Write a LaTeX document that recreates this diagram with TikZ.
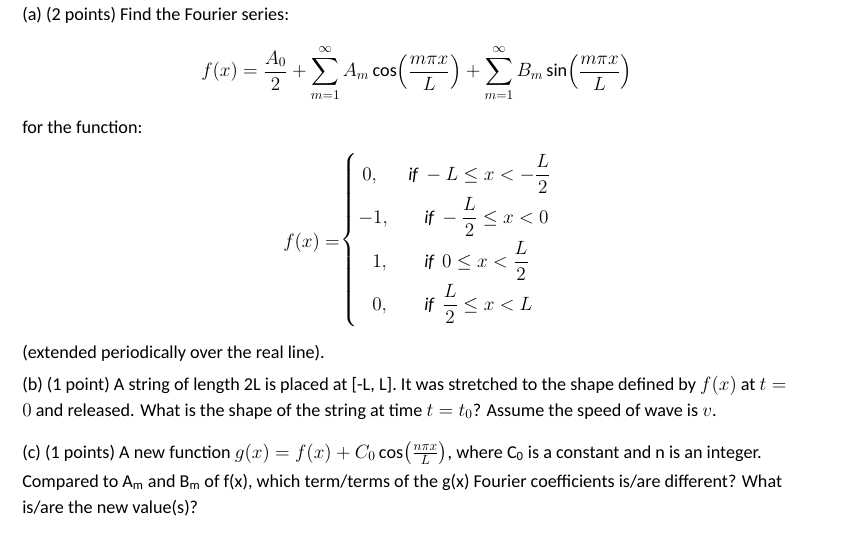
\documentclass[tikz,border=0pt]{standalone}
\usepackage{amsmath}
\usepackage{fontspec}
\setmainfont{Carlito}
\begin{document}
\begin{tikzpicture}[x=0.75pt,y=-0.75pt,
  txt/.style={anchor=base west,inner sep=0pt,font=\fontsize{13.6}{15}\selectfont},
  mth/.style={anchor=base west,inner sep=0pt,font=\fontsize{13.6}{15}\selectfont}]
\useasboundingbox[fill=white] (0,0) rectangle (867,535);
\node[txt] (a) at (22,21) {(a) (2 points) Find the Fourier series:};
\node[mth] (eq) at (201,77) {$f(x)=\dfrac{A_0}{2}+\displaystyle\sum_{m=1}^{\infty}A_m\cos\Bigl(\frac{m\pi x}{L}\Bigr)+\sum_{m=1}^{\infty}B_m\sin\Bigl(\frac{m\pi x}{L}\Bigr)$};
\node[txt] (ff) at (22,133) {for the function:};
\node[mth] (fx) at (283,247) {$f(x)=$};
\node[mth,anchor=west] (br) at (340,240) {$\left\{\vrule height 60pt depth 60pt width 0pt\right.$};
\node[mth] (r1a) at (362,180) {$0,$};
\node[mth] (r1b) at (408,180) {$\mathit{if}\ -L\le x<-\dfrac{L}{2}$};
\node[mth] (r2a) at (358,223) {$-1,$};
\node[mth] (r2b) at (424,223) {$\mathit{if}\ -\dfrac{L}{2}\le x<0$};
\node[mth] (r3a) at (372,267) {$1,$};
\node[mth] (r3b) at (424,267) {$\mathit{if}\ \ 0\le x<\dfrac{L}{2}$};
\node[mth] (r4a) at (372,310) {$0,$};
\node[mth] (r4b) at (424,310) {$\mathit{if}\ \ \dfrac{L}{2}\le x<L$};
\node[txt] (ext) at (22,358) {(extended periodically over the real line).};
\node[txt] (b1) at (22,390) {(b) (1 point) A string of length 2L is placed at [-L, L]. It was stretched to the shape defined by $f(x)$ at $t=$};
\node[txt] (b2) at (22,416) {$0$ and released. What is the shape of the string at time $t=t_0$? Assume the speed of wave is $v$.};
\node[txt] (c1) at (22,458) {(c) (1 points) A new function $g(x)=f(x)+C_0\cos\bigl(\frac{n\pi x}{L}\bigr)$, where C\textsubscript{0} is a constant and n is an integer.};
\node[txt] (c2) at (22,487) {Compared to A\textsubscript{m} and B\textsubscript{m} of f(x), which term/terms of the g(x) Fourier coefficients is/are different? What};
\node[txt] (c3) at (22,513) {is/are the new value(s)?};
\end{tikzpicture}
\end{document}
